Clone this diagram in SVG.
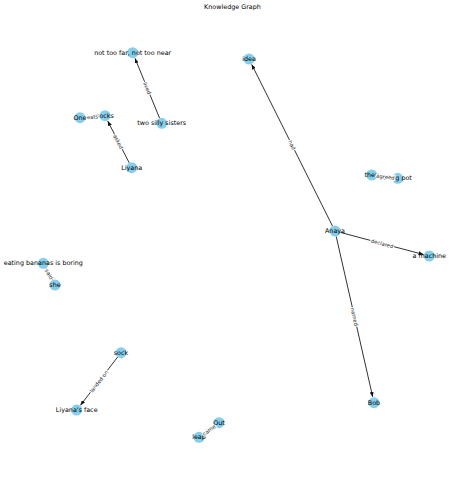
<svg xmlns="http://www.w3.org/2000/svg" width="474" height="482" viewBox="0 0 474 482">
<style>
.edge{stroke:#333;stroke-width:1;fill:none;marker-end:url(#arr)}
.node circle{fill:#87ceeb}
.node text{font-family:"DejaVu Sans",sans-serif;font-size:6.4px;fill:#000;text-anchor:middle;dominant-baseline:central}
.elab{font-family:"DejaVu Sans",sans-serif;font-size:5.3px;fill:#222;text-anchor:middle;dominant-baseline:central;paint-order:stroke;stroke:#fff;stroke-width:2.2px;stroke-linejoin:round}
.title{font-family:"DejaVu Sans",sans-serif;font-size:6.4px;fill:#000;text-anchor:middle}
</style>
<defs>
<marker id="arr" markerUnits="userSpaceOnUse" markerWidth="5" markerHeight="4" refX="5" refY="2" orient="auto">
<path d="M0,0 L5,2 L0,4 z" fill="#111"/>
</marker>
</defs>
<rect width="474" height="482" fill="#fff"/>
<text class="title" x="232.5" y="9">Knowledge Graph</text>
<g id="edges">
<line class="edge" x1="159.6" y1="118.2" x2="135.0" y2="58.3"/>
<line class="edge" x1="129.2" y1="162.8" x2="107.7" y2="121.0"/>
<line class="edge" x1="85.5" y1="117.3" x2="99.0" y2="116.2"/>
<line class="edge" x1="332.5" y1="226.1" x2="251.7" y2="64.4"/>
<line class="edge" x1="340.3" y1="232.4" x2="423.5" y2="254.5"/>
<line class="edge" x1="336.2" y1="236.4" x2="372.7" y2="396.9"/>
<line class="edge" x1="377.2" y1="175.7" x2="391.7" y2="177.5"/>
<line class="edge" x1="52.4" y1="280.2" x2="46.2" y2="268.6"/>
<line class="edge" x1="117.6" y1="357.1" x2="80.4" y2="405.3"/>
<line class="edge" x1="214.6" y1="425.9" x2="203.8" y2="433.8"/>
</g>
<g id="n-nottoofar" class="node"><circle cx="132.7" cy="52.7" r="5.5"/><text x="132.7" y="52.7">not too far, not too near</text></g>
<g id="n-sisters" class="node"><circle cx="161.7" cy="123.3" r="5.5"/><text x="161.7" y="123.3">two silly sisters</text></g>
<g id="n-one" class="node"><circle cx="80" cy="117.7" r="5.5"/><text x="80" y="117.7">One</text></g>
<g id="n-socks" class="node"><circle cx="105" cy="115.7" r="5.5"/><text x="105" y="115.7">socks</text></g>
<g id="n-liyana" class="node"><circle cx="131.7" cy="167.7" r="5.5"/><text x="131.7" y="167.7">Liyana</text></g>
<g id="n-idea" class="node"><circle cx="249" cy="59" r="5.5"/><text x="249" y="59">idea</text></g>
<g id="n-they" class="node"><circle cx="371.7" cy="175" r="5.5"/><text x="371.7" y="175">they</text></g>
<g id="n-pot" class="node"><circle cx="397.7" cy="178.3" r="5.5"/><text x="397.7" y="178.3">a big pot</text></g>
<g id="n-anaya" class="node"><circle cx="335" cy="231" r="5.5"/><text x="335" y="231">Anaya</text></g>
<g id="n-machine" class="node"><circle cx="429.3" cy="256" r="5.5"/><text x="429.3" y="256">a machine</text></g>
<g id="n-bananas" class="node"><circle cx="43.3" cy="263.3" r="5.5"/><text x="43.3" y="263.3">eating bananas is boring</text></g>
<g id="n-she" class="node"><circle cx="55" cy="285" r="5.5"/><text x="55" y="285">she</text></g>
<g id="n-sock" class="node"><circle cx="121" cy="352.7" r="5.5"/><text x="121" y="352.7">sock</text></g>
<g id="n-face" class="node"><circle cx="76.7" cy="410" r="5.5"/><text x="76.7" y="410">Liyana's face</text></g>
<g id="n-bob" class="node"><circle cx="374" cy="402.7" r="5.5"/><text x="374" y="402.7">Bob</text></g>
<g id="n-out" class="node"><circle cx="219" cy="422.7" r="5.5"/><text x="219" y="422.7">Out</text></g>
<g id="n-leap" class="node"><circle cx="199" cy="437.3" r="5.5"/><text x="199" y="437.3">leap</text></g>
<g id="edge-labels">
<text class="elab" transform="translate(147.2,88) rotate(67.7)">lived</text>
<text class="elab" transform="translate(118.3,141.7) rotate(62.8)">asked</text>
<text class="elab" transform="translate(92.5,116.7) rotate(-4.6)">eats</text>
<text class="elab" transform="translate(292,145) rotate(63.4)">had</text>
<text class="elab" transform="translate(382.2,243.5) rotate(14.8)">declared</text>
<text class="elab" transform="translate(354.5,316.8) rotate(77.2)">named</text>
<text class="elab" transform="translate(385.5,176.8) rotate(7.2)">agreed</text>
<text class="elab" transform="translate(49.2,274.2) rotate(61.7)">said</text>
<text class="elab" transform="translate(98.9,381.4) rotate(-52.3)">landed on</text>
<text class="elab" transform="translate(209,430) rotate(-36.1)">came</text>
</g>
</svg>
